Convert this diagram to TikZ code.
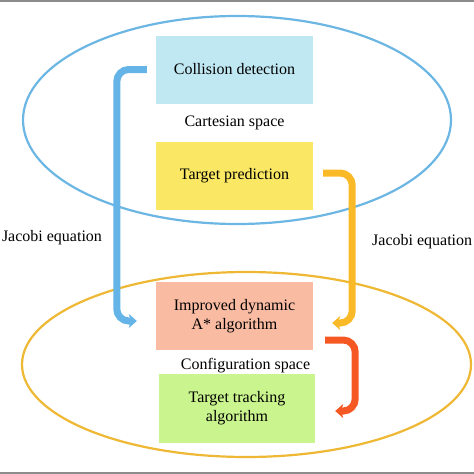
\documentclass[tikz,border=0pt]{standalone}
\usepackage{fontspec}
\setmainfont{Liberation Serif}
\usetikzlibrary{shapes.geometric,positioning,arrows.meta}

\definecolor{cdfill}{RGB}{192,232,242}
\definecolor{tpfill}{RGB}{250,232,100}
\definecolor{imfill}{RGB}{249,187,162}
\definecolor{ttfill}{RGB}{202,244,142}
\definecolor{cartline}{RGB}{108,182,228}
\definecolor{confline}{RGB}{238,184,52}
\definecolor{bluearr}{RGB}{100,180,232}
\definecolor{yelarr}{RGB}{250,186,40}
\definecolor{redarr}{RGB}{246,88,36}
\definecolor{barcol}{RGB}{140,140,140}

\tikzset{
	box/.style={minimum width=157pt,minimum height=68pt,inner sep=0pt,align=center},
	space/.style={draw,ellipse,line width=2.2pt,inner sep=0pt},
	jarrow/.style={line width=7pt,rounded corners=12pt,-{Stealth[length=8pt,width=14pt,inset=2pt]}},
	lbl/.style={inner sep=0pt}
}

\begin{document}
\begin{tikzpicture}[x=1pt,y=1pt,font=\fontsize{16}{19}\selectfont]
	\useasboundingbox (0,0) rectangle (474,-474);
	\fill[barcol](0,0) rectangle (474,-2.2);
	\fill[barcol](0,-471.8) rectangle (474,-474);
	\node[space,draw=cartline,minimum width=428pt,minimum height=208pt](cart) at (237,-120){};
	\node[space,draw=confline,minimum width=449pt,minimum height=185pt](conf) at (246.5,-364.5){};
	\node[box,fill=cdfill](cd) at (234.5,-69.5){Collision detection};
	\node[box,fill=tpfill](tp) at (234.5,-176){Target prediction};
	\node[box,fill=imfill](im) at (234.5,-316){Improved dynamic\\A* algorithm};
	\node[box,fill=ttfill,minimum width=156pt,minimum height=69pt](tt) at (237,-408.5){Target tracking\\algorithm};
	\node[lbl](cs)[below = 12pt of cd]{Cartesian space};
	\node[lbl,xshift=11pt](cfs)[below = 8pt of im]{Configuration space};
	\node[lbl](jl) at (52,-238){Jacobi equation};
	\node[lbl,anchor=west](jr) at (372,-242){Jacobi equation};
	\draw[jarrow,bluearr,shorten <=9pt,shorten >=19pt](cd.west) -- ++(-39,0) |- ([yshift=-5pt]im.west);
	\draw[jarrow,yelarr,shorten <=10pt,shorten >=19pt]([yshift=3pt]tp.east) -- ++(39,0) |- ([yshift=-7pt]im.east);
	\draw[jarrow,redarr,shorten <=12pt,shorten >=20pt]([yshift=-24pt]im.east) -- ++(42,0) |- ([yshift=-2.5pt]tt.east);
\end{tikzpicture}
\end{document}
